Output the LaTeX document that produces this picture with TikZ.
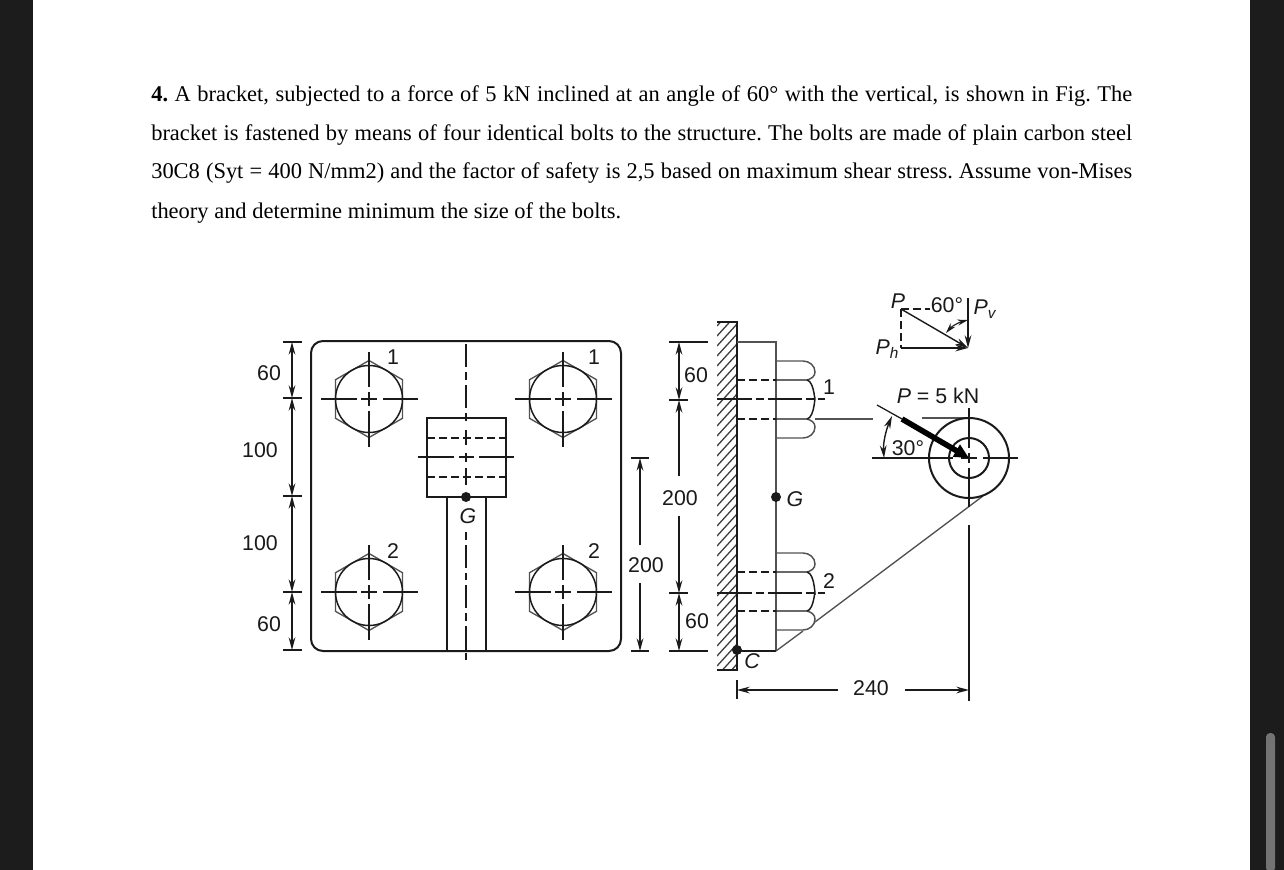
\documentclass[tikz,border=0pt]{standalone}
\usepackage{fontspec}
\setmainfont{Liberation Serif}
\newfontfamily\lab{Liberation Sans}
\usetikzlibrary{arrows.meta}
\definecolor{ink}{HTML}{1A1A1A}
\definecolor{barc}{HTML}{1C1C1C}
\tikzset{
  x=0.75pt,y=-0.75pt,
  para/.style={anchor=base west,inner sep=0,text=black,font=\fontsize{16.85}{20}\selectfont},
  lbl/.style={inner sep=0,text=ink,font=\lab\fontsize{16}{18}\selectfont},
  ilbl/.style={lbl,font=\lab\itshape\fontsize{16}{18}\selectfont},
  heavy/.style={draw=ink,line width=1.5pt},
  med/.style={draw=ink,line width=1.1pt},
  thin1/.style={draw=ink,line width=0.95pt},
  soft/.style={draw=black!68,line width=1pt},
  dsh/.style={draw=ink,line width=1.1pt,dash pattern=on 6pt off 3pt},
  dim/.style={draw=ink,line width=1.05pt,{Stealth[length=9.5pt,width=5pt]}-{Stealth[length=9.5pt,width=5pt]}},
  dimend/.style={draw=ink,line width=1.05pt,-{Stealth[length=9.5pt,width=5pt]}},
  dot/.style={fill=ink,draw=none,circle,inner sep=0,minimum size=7.5pt}
}
\newcommand{\fullline}[1]{\hbox to 735.75pt{\frenchspacing #1}}
\newcommand{\centerplus}[6]{% x y xmin xmax ymin ymax
  \draw[thin1] (#3,#2)--({#1-12},#2) ({#1-8},#2)--({#1+8},#2) ({#1+14},#2)--(#4,#2);
  \draw[thin1] (#1,#5)--(#1,{#2-12}) (#1,{#2-7})--(#1,{#2+7}) (#1,{#2+12})--(#1,#6);
}
\newcommand{\hexbolt}[2]{%
  \draw[soft] ({#1},{#2-38.5})--({#1+33.5},{#2-19.3})--({#1+33.5},{#2+19.3})--({#1},{#2+38.5})--({#1-33.5},{#2+19.3})--({#1-33.5},{#2-19.3})--cycle;
  \draw[med] (#1,#2) circle[radius=33.5];
  \centerplus{#1}{#2}{#1-48}{#1+49}{#2-47}{#2+48}
}
\newcommand{\nutside}[2]{% top of nut y, centre y
  \draw[soft,line width=1.1pt] (776,#1)--(803,#1) to[out=0,in=90] (815,{#1+11}) to[out=-90,in=15] (807,{#1+19});
  \draw[soft,line width=1.1pt] (776,{#1+77})--(803,{#1+77}) to[out=0,in=-90] (815,{#1+66}) to[out=90,in=-15] (807,{#1+58});
  \draw[med] (776,{#1+19})--(807,{#1+19}) to[out=-10,in=-90] (815,#2) to[out=90,in=10] (807,{#1+58})--(776,{#1+58});
  \draw[dsh] (737,{#1+19})--(776,{#1+19}) (737,{#1+58})--(776,{#1+58});
  \draw[med,dash pattern=on 26pt off 3pt on 6pt off 3pt] (717,#2)--(825,#2);
}
\begin{document}
\begin{tikzpicture}
\useasboundingbox (0,0) rectangle (1284,870);
\fill[white] (0,0) rectangle (1284,870);
\fill[barc] (0,0) rectangle (33,870);
\fill[barc] (1250,0) rectangle (1284,870);
\fill[black!55,rounded corners=3pt] (1266,733) rectangle (1275,872);
% paragraph
\node[para] (t1) at (151,102) {\fullline{\textbf{4.} A bracket, subjected to a force of 5 kN inclined at an angle of 60° with the vertical, is shown in Fig. The}};
\node[para] (t2) at (151,140.5) {\fullline{bracket is fastened by means of four identical bolts to the structure. The bolts are made of plain carbon steel}};
\node[para] (t3) at (151,179) {\fullline{30C8 (Syt = 400 N/mm2) and the factor of safety is 2,5 based on maximum shear stress. Assume von-Mises}};
\node[para] (t4) at (151,218) {theory and determine minimum the size of the bolts.};
% plate
\draw[heavy,rounded corners=9pt] (311,341) rectangle (621,651);
\hexbolt{369}{399}
\hexbolt{563}{399}
\hexbolt{369}{592}
\hexbolt{563}{592}
\node[lbl] (n1) at (393,357) {1};
\node[lbl] (n2) at (594,357) {1};
\node[lbl] (n3) at (393,551) {2};
\node[lbl] (n4) at (594,551) {2};
% central bracket
\draw[med] (447,497)--(447,651) (486,497)--(486,651);
\draw[med] (427,418) rectangle (506,497);
\draw[dsh] (427,438)--(506,438) (427,477)--(506,477);
\draw[thin1] (418,457)--(454,457) (459,457)--(474,457) (479,457)--(514,457);
\foreach \a/\b in {344/367,372/380,385/408,413/421,430/445,453/462,468/485,532/540,545/568,573/580,585/608,613/621,626/650,653/660}
  \draw[thin1] (466,\a)--(466,\b);
\node[dot] (g1) at (466,497) {};
\node[ilbl] (g1t) at (468,516) {G};
% left dimensions
\foreach \y in {342,398,496,592,650} \draw[thin1] (283,\y)--(302,\y);
\draw[dim] (292,342)--(292,398);
\draw[dim] (292,398)--(292,496);
\draw[dim] (292,496)--(292,592);
\draw[dim] (292,592)--(292,650);
\node[lbl] (d1) at (269,373) {60};
\node[lbl] (d2) at (260,450) {100};
\node[lbl] (d3) at (260,543) {100};
\node[lbl] (d4) at (269,624) {60};
% inner 200
\draw[thin1] (631,458)--(649,458) (631,651)--(649,651);
\draw[dimend] (640,545)--(640,458);
\draw[dimend] (640,583)--(640,651);
\node[lbl] (d5) at (646,565) {200};
% second dim column
\draw[thin1] (669,342)--(708,342) (669,651)--(708,651) (669,400)--(688,400) (669,593)--(688,593);
\draw[dim] (679,342)--(679,400);
\draw[dim] (679,593)--(679,651);
\draw[dimend] (679,476)--(679,400);
\draw[dimend] (679,516)--(679,593);
\node[lbl] (d6) at (696,375) {60};
\node[lbl] (d7) at (680,498) {200};
\node[lbl] (d8) at (697,621) {60};
% wall
\begin{scope}
\clip (717,322) rectangle (737,670);
\foreach \y in {326,336,...,700} \draw[draw=ink!85,line width=0.95pt] (717,\y)--(737,{\y-22});
\end{scope}
\draw[med] (717,322)--(737,322)--(737,670)--(717,670);
% plate side
\draw[soft,line width=1.1pt] (737,342)--(776,342)--(776,651);
\draw[med] (737,651)--(776,651);
% cross rib
\draw[soft] (776,651)--(803,631) (815,622)--(983,496);
\nutside{361}{399}
\nutside{553}{593}
\draw[soft] (815,419)--(873,419);
\draw[soft] (922,418)--(969,418);
\node[lbl] (b1) at (829,387) {1};
\node[lbl] (b2) at (829,581) {2};
\node[dot] (g2) at (776,497) {};
\node[ilbl] (g2t) at (795,499) {G};
\node[dot] (c) at (737,650) {};
\node[ilbl] (ct) at (752,661) {C};
% 240
\draw[thin1] (737,680)--(737,699);
\draw[thin1] (969,525)--(969,701);
\coordinate (a0) at (737,690);
\coordinate (a1) at (969,690);
\draw[dimend] (838,690)--(a0);
\draw[dimend] (905,690)--(a1);
\node[lbl] (d9) at (871,688) {240};
% pulley
\coordinate (pc) at (969,458);
\fill[white] (pc) circle[radius=40];
\draw[heavy] (pc) circle[radius=40];
\draw[heavy] (pc) circle[radius=20];
\draw[thin1] (872,458)--(953,458) (961,458)--(977,458) (983,458)--(1018,458);
\draw[thin1] (969,408)--(969,448) (969,453)--(969,463) (969,468)--(969,507);
% force
\draw[thin1] (877,405)--(902,419);
\draw[draw=black,line width=4.2pt,-{Stealth[length=11pt,width=10pt,inset=0pt]}] (902,419)--(pc);
\draw[dim] (884,458) .. controls (883,443) and (886,430) .. (892,416);
\node[lbl] (a30) at (908,448) {30°};
\node[lbl] (p5) at (938,396) {\textit{P} = 5 kN};
% triangle
\coordinate (tp) at (901,309);
\coordinate (tr) at (968,348);
\coordinate (tb) at (901,348);
\draw[dsh] (tp)--(930,309) (tp)--(tb);
\draw[dimend] (tb)--(tr);
\draw[dimend] (tp)--(tr);
\draw[dimend] (968,298)--(tr);
\draw[draw=ink,line width=0.8pt,{Stealth[length=8pt,width=4.5pt]}-{Stealth[length=8pt,width=4.5pt]}] (946,333) .. controls (952,326) and (960,322) .. (968,320);
\node[ilbl] (tpl) at (898,301) {P};
\node[lbl] (t60) at (947,305) {60°};
\node[lbl] (tpv) at (985,309) {\textit{P}\raisebox{-3pt}{\fontsize{11.5}{12}\selectfont\textit{v}}};
\node[lbl] (tph) at (887,349) {\textit{P}\raisebox{-3pt}{\fontsize{11.5}{12}\selectfont\textit{h}}};
\end{tikzpicture}
\end{document}
